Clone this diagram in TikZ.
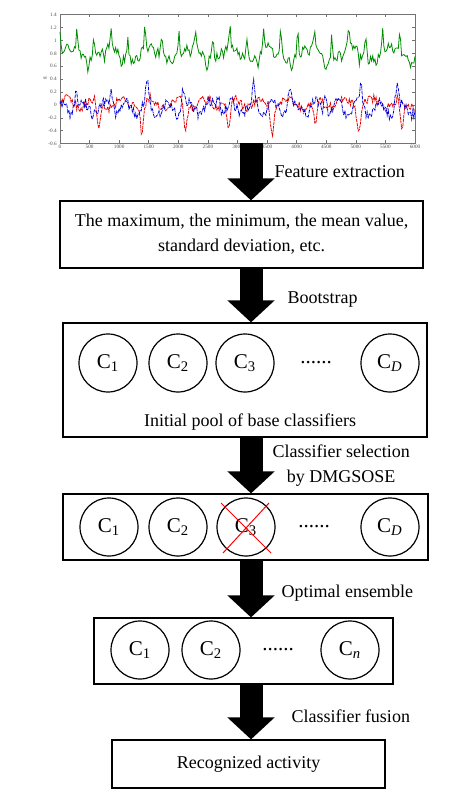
\documentclass[tikz,border=0pt]{standalone}
\usepackage{fontspec}
\setmainfont{Liberation Serif}
\usetikzlibrary{arrows.meta,positioning,calc}
\newcommand{\pxu}{0.5pt}
\newcommand{\framecolor}{black!55}
\newcommand{\lw}{0.6pt}

\tikzset{
  stage/.style={draw, line width=\lw, inner sep=0pt, align=center,
    font=\fontsize{9}{12.5}\selectfont},
  clf/.style={circle, draw, line width=\lw, inner sep=0pt, minimum size=58*\pxu,
    font=\fontsize{10.5}{12}\selectfont},
  dots/.style={inner sep=0pt, font=\fontsize{10.5}{12}\selectfont},
  fatarrow/.style={line width=23*\pxu, -{Triangle[width=46*\pxu, length=22*\pxu]}},
  lbl/.style={anchor=west, inner sep=0pt, align=center, font=\fontsize{9}{12.5}\selectfont},
  tick/.style={\framecolor, line width=0.3pt},
  ticklbl/.style={inner sep=0pt, font=\fontsize{2.6}{3}\selectfont, text=black!70}
}

\begin{document}
\begin{tikzpicture}[x=\pxu, y=-\pxu]
\useasboundingbox (0,0) rectangle (474,796);
\coordinate (spine) at (251,0);

% signal plot
\node[draw=\framecolor, line width=0.4pt, minimum width=355*\pxu, minimum height=129*\pxu, inner sep=0pt] (plot) at (237.5,78.5) {};
\pgfmathsetseed{11}
\begin{scope}[shift={(60,105)}, yscale=-64.5]
\foreach \t in {-0.6,-0.4,-0.2,0,0.2,0.4,0.6,0.8,1,1.2,1.4} {
  \draw[tick] (0,\t) -- ++(3,0);
  \draw[tick] (355,\t) -- ++(-3,0);
  \node[ticklbl, anchor=east] at (-3,\t) {\t};
}
\draw[green!55!black, line width=0.4pt] plot[domain=0:355, samples=320]
  (\x, {0.8+0.07*rand+0.1*sin(9*\x)+0.33*max(0,cos(21.2*\x))^10-0.14*max(0,cos(21.2*\x+130))^8});
\draw[red!90!black, line width=0.4pt, dash pattern=on 1.5pt off 0.4pt] plot[domain=0:355, samples=320]
  (\x, {0.03+0.07*rand+0.07*sin(13*\x)-0.42*max(0,cos(8.3*\x+40))^16});
\draw[blue!85!black, line width=0.4pt, dash pattern=on 1.5pt off 0.4pt on 0.3pt off 0.4pt] plot[domain=0:355, samples=320]
  (\x, {-0.05+0.08*rand+0.1*sin(17*\x+60)+0.3*max(0,cos(10.1*\x+200))^16});
\end{scope}
\foreach \i in {0,...,12} {
  \draw[tick] ({60+\i*355/12},143) -- ++(0,-3);
  \draw[tick] ({60+\i*355/12},14) -- ++(0,3);
  \pgfmathtruncatemacro{\xlab}{\i*500}
  \node[ticklbl, anchor=north] at ({60+\i*355/12},145) {\xlab};
}
\node[ticklbl, rotate=90] (ylab) at (45,78) {g};

% features
\node[stage, minimum width=363*\pxu, minimum height=67*\pxu] (feat) at (241.5,234.5)
  {The maximum, the minimum, the mean value,\\standard deviation, etc.};

% initial pool
\node[stage, minimum width=364*\pxu, minimum height=114*\pxu] (pool) at (245,380) {};
\node[clf] (p1) at (108,363) {C\textsubscript{1}};
\node[clf] (p2) at (178,363) {C\textsubscript{2}};
\node[clf] (p3) at (245,363) {C\textsubscript{3}};
\node[dots] (pdots) at (316,363) {......};
\node[clf] (pD) at (390,363) {C\textsubscript{\textit{D}}};
\node[inner sep=0pt, font=\fontsize{9}{12.5}\selectfont] (pooltxt) at (250,422) {Initial pool of base classifiers};

% selection
\node[stage, minimum width=365*\pxu, minimum height=66*\pxu] (sel) at (245.5,527) {};
\node[clf] (s1) at (109,527) {C\textsubscript{1}};
\node[clf] (s2) at (178,527) {C\textsubscript{2}};
\node[clf] (s3) at (246,527) {C\textsubscript{3}};
\node[dots] (sdots) at (314,527) {......};
\node[clf] (sD) at (390,527) {C\textsubscript{\textit{D}}};
\draw[red, line width=0.5pt] ($(s3)+(-25,-24)$) -- ($(s3)+(25,26)$);
\draw[red, line width=0.5pt] ($(s3)+(23,-24)$) -- ($(s3)+(-23,26)$);

% ensemble
\node[stage, minimum width=299*\pxu, minimum height=66*\pxu] (ens) at (243.5,651) {};
\node[clf] (e1) at (140,650) {C\textsubscript{1}};
\node[clf] (e2) at (211,650) {C\textsubscript{2}};
\node[dots] (edots) at (278,650) {......};
\node[clf] (en) at (350,650) {C\textsubscript{\textit{n}}};

% result
\node[stage, minimum width=273*\pxu, minimum height=48*\pxu] (res) at (248.5,764) {Recognized activity};

% arrows
\draw[fatarrow] (plot.south -| spine) -- node[lbl, xshift=6pt] {Feature extraction} (feat.north -| spine);
\draw[fatarrow] (feat.south -| spine) -- node[lbl, xshift=12.5pt, yshift=-2pt] {Bootstrap} (pool.north -| spine);
\draw[fatarrow] (pool.south -| spine) -- node[lbl, xshift=5pt] {Classifier selection\\by DMGSOSE} (sel.north -| spine);
\draw[fatarrow] (sel.south -| spine) -- node[lbl, xshift=9.5pt, yshift=-2pt] {Optimal ensemble} (ens.north -| spine);
\draw[fatarrow] (ens.south -| spine) -- node[lbl, xshift=14.5pt, yshift=-2pt] {Classifier fusion} (res.north -| spine);
\end{tikzpicture}
\end{document}
